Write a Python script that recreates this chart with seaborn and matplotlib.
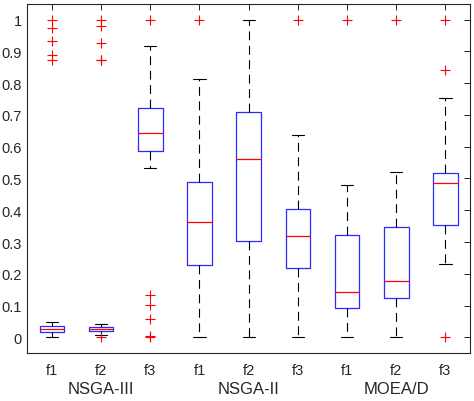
import numpy as np
import pandas as pd
import seaborn as sns
import matplotlib.pyplot as plt
from matplotlib.ticker import FormatStrFormatter

sns.set_theme(style="white")
plt.rcParams['font.family'] = ['Liberation Sans', 'DejaVu Sans']

# Box summaries (one entry per box, left to right)
algorithms = ['NSGA-III', 'NSGA-II', 'MOEA/D']
objectives = ['f1', 'f2', 'f3']
whisker_lo = [0.0, 0.007, 0.532, 0.0, 0.0, 0.0, 0.0, 0.0, 0.230]
q1 = [0.018, 0.021, 0.588, 0.227, 0.304, 0.217, 0.094, 0.125, 0.353]
median = [0.026, 0.026, 0.642, 0.364, 0.562, 0.320, 0.144, 0.177, 0.487]
q3 = [0.036, 0.034, 0.721, 0.490, 0.710, 0.405, 0.321, 0.348, 0.516]
whisker_hi = [0.049, 0.043, 0.916, 0.814, 1.000, 0.636, 0.478, 0.520, 0.752]
outliers = [
    [0.874, 0.890, 0.932, 0.975, 1.0],
    [0.0, 0.872, 0.874, 0.925, 0.980, 1.0],
    [0.0, 0.003, 0.057, 0.102, 0.133, 1.0],
    [1.0],
    [],
    [1.0],
    [1.0],
    [1.0],
    [0.0, 0.841, 1.0],
]

# Build a sample per box whose quartiles/whiskers reproduce the read values
rows = []
box_ids = []
for i in range(9):
    alg = algorithms[i // 3]
    obj = objectives[i % 3]
    box = f'{alg} {obj}'
    box_ids.append(box)
    low = sorted([v for v in outliers[i] if v < q1[i]]) + [whisker_lo[i]]
    high = [whisker_hi[i]] + sorted([v for v in outliers[i] if v > q3[i]])
    k = max(len(low), len(high))
    vals = (low + [q1[i]] * (k - len(low)) + [q1[i]] * k + [median[i]] * k
            + [q3[i]] * (k + 1 - len(high)) + high)
    for v in vals:
        rows.append({'box': box, 'value': v})
df = pd.DataFrame(rows)

fig = plt.figure(figsize=(4.74, 4.02), dpi=100)
ax = fig.add_axes([0.0576, 0.1187, 0.934, 0.8697])

sns.boxplot(data=df, x='box', y='value', order=box_ids, ax=ax,
            fill=False, width=0.5, whis=1.5, color='blue', linewidth=0.8,
            boxprops=dict(color='#2b2bff', linewidth=0.9),
            medianprops=dict(color='red', linewidth=0.9),
            whiskerprops=dict(color='black', linewidth=0.8, linestyle=(0, (8, 5))),
            capprops=dict(color='black', linewidth=0.8),
            flierprops=dict(marker='+', markersize=6.5, markeredgecolor='red',
                            markerfacecolor='red', markeredgewidth=0.8))

ax.set_xlim(-0.5, 8.5)
ax.set_ylim(-0.05, 1.05)
ax.set_yticks(np.arange(0, 1.01, 0.1))
ax.yaxis.set_major_formatter(FormatStrFormatter('%g'))
ax.set_xticks(range(9))
ax.set_xticklabels([objectives[i % 3] for i in range(9)])
ax.set_xlabel('')
ax.set_ylabel('')

dark = '#262626'
for s in ax.spines.values():
    s.set_color(dark)
    s.set_linewidth(0.8)
ax.tick_params(direction='in', top=True, right=True, length=4, width=0.7,
               color=dark, labelcolor=dark, labelsize=10.5)
ax.tick_params(axis='x', pad=7)
ax.tick_params(axis='y', pad=4)

# group names under the middle objective of each algorithm
for g, alg in enumerate(algorithms):
    ax.text(g * 3 + 1, -0.08, alg, transform=ax.get_xaxis_transform(),
            ha='center', va='top', fontsize=12, color=dark)

fig.savefig('out.png', dpi=100)
